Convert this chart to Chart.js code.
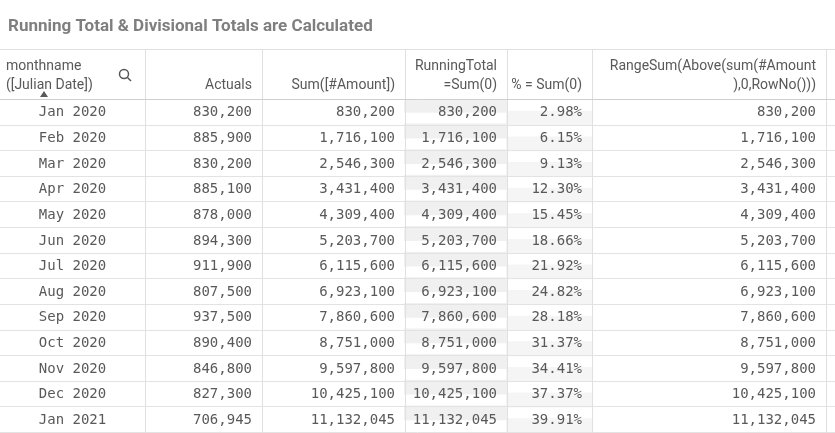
<!DOCTYPE html>
<html><head><meta charset="utf-8">
<script src="https://cdn.jsdelivr.net/npm/chart.js@4"></script>
<style>html,body{margin:0;background:#fff}#w{width:835px;height:433px;position:relative}</style>
</head><body><div id="w"><canvas id="c"></canvas></div>
<script>
const months=["Jan 2020","Feb 2020","Mar 2020","Apr 2020","May 2020","Jun 2020","Jul 2020","Aug 2020","Sep 2020","Oct 2020","Nov 2020","Dec 2020","Jan 2021"];
const actuals=[830200,885900,830200,885100,878000,894300,911900,807500,937500,890400,846800,827300,706945];
const sumAmount=[830200,1716100,2546300,3431400,4309400,5203700,6115600,6923100,7860600,8751000,9597800,10425100,11132045];
const runningTotal=[830200,1716100,2546300,3431400,4309400,5203700,6115600,6923100,7860600,8751000,9597800,10425100,11132045];
const pct=[2.98,6.15,9.13,12.30,15.45,18.66,21.92,24.82,28.18,31.37,34.41,37.37,39.91];
const rangeSum=[830200,1716100,2546300,3431400,4309400,5203700,6115600,6923100,7860600,8751000,9597800,10425100,11132045];
const headers=[["monthname","([Julian Date])"],["","Actuals"],["","Sum([#Amount])"],["RunningTotal","=Sum(0)"],["","% = Sum(0)"],["RangeSum(Above(sum(#Amount","),0,RowNo()))"]];
const title="Running Total & Divisional Totals are Calculated";
const edges=[0,145,262,405,507,592,826];
const fmt=v=>v.toLocaleString('en-US');
const cols=[months,actuals.map(fmt),sumAmount.map(fmt),runningTotal.map(fmt),pct.map(v=>v.toFixed(2)+'%'),rangeSum.map(fmt)];
const txt='#595959';
const plugin={id:'tbl',afterDatasetsDraw(ch){
 const c=ch.ctx,x=ch.scales.x,y=ch.scales.y;
 c.save();
 c.strokeStyle='#e3e3e3';c.lineWidth=1;
 for(let r=0;r<=months.length;r++){const py=Math.round(y.getPixelForValue(r-0.5))+0.5;c.beginPath();c.moveTo(0,py);c.lineTo(835,py);c.stroke();}
 c.fillStyle='#7f7f7f';c.font='bold 17px Roboto,sans-serif';c.textBaseline='middle';c.textAlign='left';
 c.fillText(title,8,27);
 c.strokeStyle='#e0e0e0';
 for(let i=1;i<edges.length;i++){const px=Math.round(x.getPixelForValue(edges[i]))+0.5;c.beginPath();c.moveTo(px,50);c.lineTo(px,433);c.stroke();}
 c.beginPath();c.moveTo(0,49.5);c.lineTo(835,49.5);c.stroke();
 c.strokeStyle='#cfcfcf';c.beginPath();c.moveTo(0,99.5);c.lineTo(835,99.5);c.stroke();
 c.fillStyle=txt;c.font='14px Roboto,sans-serif';
 headers.forEach((h,i)=>{
  const left=i===0;c.textAlign=left?'left':'right';
  const px=left?x.getPixelForValue(edges[0])+6:x.getPixelForValue(edges[i+1])-10;
  if(h[0])c.fillText(h[0],px,66);c.fillText(h[1],px,85);
 });
 c.beginPath();c.moveTo(40,97);c.lineTo(44,91);c.lineTo(48,97);c.closePath();c.fill();
 c.strokeStyle='#555';c.lineWidth=1.5;c.beginPath();c.arc(124,74,4.5,0,Math.PI*2);c.stroke();
 c.beginPath();c.moveTo(127.5,77.5);c.lineTo(131,81);c.stroke();
 c.font='14px "DejaVu Sans Mono",monospace';c.fillStyle=txt;
 cols.forEach((col,i)=>{
  col.forEach((t,r)=>{
   const py=y.getPixelForValue(r)+1;
   if(i===0){c.textAlign='center';c.fillText(t,(x.getPixelForValue(edges[0])+x.getPixelForValue(edges[1]))/2,py);}
   else{c.textAlign='right';c.fillText(t,x.getPixelForValue(edges[i+1])-10,py);}
  });
 });
 c.restore();
}};
const barOpts={barPercentage:1,categoryPercentage:1,borderWidth:0,borderSkipped:false,inflateAmount:1};
new Chart(document.getElementById('c'),{type:'bar',
 data:{labels:months,datasets:[
  Object.assign({data:months.map(()=>[edges[3],edges[4]]),backgroundColor:'#f0f0f0'},barOpts),
  Object.assign({data:months.map(()=>[edges[4],edges[5]]),backgroundColor:'#f5f5f5'},barOpts)]},
 options:{indexAxis:'y',responsive:true,maintainAspectRatio:false,animation:false,
  layout:{padding:{top:99,bottom:1,left:0,right:0}},
  plugins:{legend:{display:false},tooltip:{enabled:false}},
  scales:{x:{type:'linear',min:0,max:835,display:false,grid:{display:false}},
   y:{display:false,grid:{display:false}}}},
 plugins:[plugin]});
</script></body></html>
